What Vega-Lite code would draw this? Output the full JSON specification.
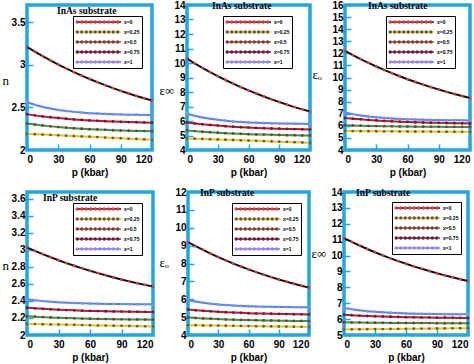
{
"$schema": "https://vega.github.io/schema/vega-lite/v6.json",
"padding": {"left": 0, "top": -2, "right": 0, "bottom": 0},
"background": "white",
"config": {
 "view": {"stroke": "#22a6e2", "strokeWidth": 3.5},
 "axis": {"grid": false, "domain": false, "tickColor": "#22a6e2", "tickSize": -6, "tickWidth": 1.5, "labelFont": "Liberation Sans", "labelFontWeight": "bold", "labelFontSize": 10, "labelColor": "black"},
 "axisX": {"labelPadding": 10, "titleFont": "Liberation Sans", "titleFontWeight": "bold", "titleFontSize": 10, "titlePadding": 3, "titleColor": "black"},
 "axisY": {"labelPadding": 8, "titleFont": "Liberation Serif", "titleFontWeight": "normal", "titleFontSize": 13, "titleAngle": 0, "titleAlign": "left", "titleBaseline": "middle", "titleColor": "black", "format": "~g"},
 "title": {"font": "Liberation Serif", "fontSize": 9.5, "fontWeight": "bold", "anchor": "start", "frame": "group", "offset": -10, "color": "black"},
 "legend": {"padding": 2, "rowPadding": 2, "clipHeight": 8, "symbolSize": 2025, "labelFontSize": 5, "labelFont": "Liberation Sans", "labelFontWeight": "bold", "labelOffset": 2, "labelColor": "black", "symbolOpacity": 1}
},
"data": {"values": [
{"g":1,"p":0,"a":3.210,"b":2.190,"c":2.310,"d":2.420,"e":2.560},
{"g":1,"p":7.5,"a":3.154,"b":2.186,"c":2.298,"d":2.406,"e":2.530},
{"g":1,"p":15,"a":3.101,"b":2.181,"c":2.287,"d":2.394,"e":2.505},
{"g":1,"p":22.5,"a":3.050,"b":2.177,"c":2.277,"d":2.384,"e":2.486},
{"g":1,"p":30,"a":3.002,"b":2.173,"c":2.269,"d":2.375,"e":2.470},
{"g":1,"p":37.5,"a":2.956,"b":2.168,"c":2.262,"d":2.366,"e":2.457},
{"g":1,"p":45,"a":2.913,"b":2.164,"c":2.255,"d":2.359,"e":2.447},
{"g":1,"p":52.5,"a":2.872,"b":2.159,"c":2.249,"d":2.353,"e":2.439},
{"g":1,"p":60,"a":2.832,"b":2.155,"c":2.244,"d":2.347,"e":2.432},
{"g":1,"p":67.5,"a":2.795,"b":2.151,"c":2.240,"d":2.342,"e":2.427},
{"g":1,"p":75,"a":2.760,"b":2.146,"c":2.236,"d":2.338,"e":2.423},
{"g":1,"p":82.5,"a":2.726,"b":2.142,"c":2.232,"d":2.334,"e":2.419},
{"g":1,"p":90,"a":2.693,"b":2.138,"c":2.229,"d":2.330,"e":2.417},
{"g":1,"p":97.5,"a":2.663,"b":2.133,"c":2.226,"d":2.327,"e":2.414},
{"g":1,"p":105,"a":2.634,"b":2.129,"c":2.224,"d":2.325,"e":2.413},
{"g":1,"p":112.5,"a":2.606,"b":2.124,"c":2.222,"d":2.322,"e":2.411},
{"g":1,"p":120,"a":2.580,"b":2.120,"c":2.220,"d":2.320,"e":2.410},
{"g":2,"p":0,"a":10.300,"b":4.800,"c":5.350,"d":5.900,"e":6.500},
{"g":2,"p":7.5,"a":9.975,"b":4.781,"c":5.302,"d":5.835,"e":6.358},
{"g":2,"p":15,"a":9.669,"b":4.763,"c":5.260,"d":5.777,"e":6.245},
{"g":2,"p":22.5,"a":9.373,"b":4.744,"c":5.223,"d":5.726,"e":6.153},
{"g":2,"p":30,"a":9.096,"b":4.725,"c":5.191,"d":5.682,"e":6.079},
{"g":2,"p":37.5,"a":8.829,"b":4.706,"c":5.162,"d":5.642,"e":6.020},
{"g":2,"p":45,"a":8.577,"b":4.688,"c":5.137,"d":5.607,"e":5.972},
{"g":2,"p":52.5,"a":8.340,"b":4.669,"c":5.114,"d":5.576,"e":5.934},
{"g":2,"p":60,"a":8.110,"b":4.650,"c":5.094,"d":5.549,"e":5.904},
{"g":2,"p":67.5,"a":7.895,"b":4.631,"c":5.077,"d":5.525,"e":5.879},
{"g":2,"p":75,"a":7.690,"b":4.613,"c":5.061,"d":5.504,"e":5.860},
{"g":2,"p":82.5,"a":7.493,"b":4.594,"c":5.048,"d":5.485,"e":5.843},
{"g":2,"p":90,"a":7.307,"b":4.575,"c":5.036,"d":5.469,"e":5.831},
{"g":2,"p":97.5,"a":7.128,"b":4.556,"c":5.025,"d":5.454,"e":5.820},
{"g":2,"p":105,"a":6.960,"b":4.538,"c":5.016,"d":5.442,"e":5.812},
{"g":2,"p":112.5,"a":6.803,"b":4.519,"c":5.007,"d":5.430,"e":5.806},
{"g":2,"p":120,"a":6.650,"b":4.500,"c":5.000,"d":5.420,"e":5.800},
{"g":3,"p":0,"a":12.200,"b":5.570,"c":6.050,"d":6.650,"e":7.100},
{"g":3,"p":7.5,"a":11.853,"b":5.566,"c":6.030,"d":6.589,"e":6.968},
{"g":3,"p":15,"a":11.525,"b":5.561,"c":6.012,"d":6.535,"e":6.863},
{"g":3,"p":22.5,"a":11.209,"b":5.557,"c":5.996,"d":6.487,"e":6.778},
{"g":3,"p":30,"a":10.913,"b":5.553,"c":5.982,"d":6.445,"e":6.709},
{"g":3,"p":37.5,"a":10.628,"b":5.548,"c":5.969,"d":6.408,"e":6.654},
{"g":3,"p":45,"a":10.359,"b":5.544,"c":5.959,"d":6.376,"e":6.610},
{"g":3,"p":52.5,"a":10.106,"b":5.539,"c":5.949,"d":6.347,"e":6.575},
{"g":3,"p":60,"a":9.860,"b":5.535,"c":5.940,"d":6.321,"e":6.546},
{"g":3,"p":67.5,"a":9.630,"b":5.531,"c":5.933,"d":6.299,"e":6.523},
{"g":3,"p":75,"a":9.412,"b":5.526,"c":5.926,"d":6.279,"e":6.505},
{"g":3,"p":82.5,"a":9.201,"b":5.522,"c":5.920,"d":6.261,"e":6.490},
{"g":3,"p":90,"a":9.002,"b":5.518,"c":5.915,"d":6.246,"e":6.479},
{"g":3,"p":97.5,"a":8.811,"b":5.513,"c":5.911,"d":6.232,"e":6.469},
{"g":3,"p":105,"a":8.632,"b":5.509,"c":5.907,"d":6.220,"e":6.461},
{"g":3,"p":112.5,"a":8.464,"b":5.504,"c":5.903,"d":6.209,"e":6.455},
{"g":3,"p":120,"a":8.300,"b":5.500,"c":5.900,"d":6.200,"e":6.450},
{"g":4,"p":0,"a":3.030,"b":2.130,"c":2.220,"d":2.320,"e":2.420},
{"g":4,"p":7.5,"a":2.989,"b":2.128,"c":2.215,"d":2.313,"e":2.408},
{"g":4,"p":15,"a":2.950,"b":2.126,"c":2.210,"d":2.307,"e":2.398},
{"g":4,"p":22.5,"a":2.913,"b":2.124,"c":2.206,"d":2.302,"e":2.390},
{"g":4,"p":30,"a":2.878,"b":2.123,"c":2.202,"d":2.297,"e":2.384},
{"g":4,"p":37.5,"a":2.845,"b":2.121,"c":2.199,"d":2.293,"e":2.379},
{"g":4,"p":45,"a":2.813,"b":2.119,"c":2.196,"d":2.290,"e":2.375},
{"g":4,"p":52.5,"a":2.783,"b":2.117,"c":2.193,"d":2.286,"e":2.372},
{"g":4,"p":60,"a":2.754,"b":2.115,"c":2.191,"d":2.283,"e":2.369},
{"g":4,"p":67.5,"a":2.727,"b":2.113,"c":2.189,"d":2.281,"e":2.367},
{"g":4,"p":75,"a":2.701,"b":2.111,"c":2.187,"d":2.279,"e":2.365},
{"g":4,"p":82.5,"a":2.676,"b":2.109,"c":2.185,"d":2.277,"e":2.364},
{"g":4,"p":90,"a":2.653,"b":2.108,"c":2.184,"d":2.275,"e":2.363},
{"g":4,"p":97.5,"a":2.630,"b":2.106,"c":2.183,"d":2.274,"e":2.362},
{"g":4,"p":105,"a":2.609,"b":2.104,"c":2.182,"d":2.272,"e":2.361},
{"g":4,"p":112.5,"a":2.589,"b":2.102,"c":2.181,"d":2.271,"e":2.360},
{"g":4,"p":120,"a":2.570,"b":2.100,"c":2.180,"d":2.270,"e":2.360},
{"g":5,"p":0,"a":9.200,"b":4.550,"c":4.980,"d":5.420,"e":5.950},
{"g":5,"p":7.5,"a":8.973,"b":4.544,"c":4.953,"d":5.383,"e":5.869},
{"g":5,"p":15,"a":8.759,"b":4.538,"c":4.929,"d":5.351,"e":5.804},
{"g":5,"p":22.5,"a":8.552,"b":4.531,"c":4.908,"d":5.322,"e":5.752},
{"g":5,"p":30,"a":8.359,"b":4.525,"c":4.889,"d":5.297,"e":5.710},
{"g":5,"p":37.5,"a":8.172,"b":4.519,"c":4.873,"d":5.275,"e":5.676},
{"g":5,"p":45,"a":7.996,"b":4.513,"c":4.858,"d":5.255,"e":5.648},
{"g":5,"p":52.5,"a":7.831,"b":4.506,"c":4.845,"d":5.238,"e":5.627},
{"g":5,"p":60,"a":7.670,"b":4.500,"c":4.834,"d":5.223,"e":5.609},
{"g":5,"p":67.5,"a":7.520,"b":4.494,"c":4.824,"d":5.209,"e":5.595},
{"g":5,"p":75,"a":7.377,"b":4.488,"c":4.815,"d":5.197,"e":5.584},
{"g":5,"p":82.5,"a":7.239,"b":4.481,"c":4.807,"d":5.187,"e":5.575},
{"g":5,"p":90,"a":7.109,"b":4.475,"c":4.800,"d":5.178,"e":5.568},
{"g":5,"p":97.5,"a":6.984,"b":4.469,"c":4.794,"d":5.169,"e":5.562},
{"g":5,"p":105,"a":6.867,"b":4.463,"c":4.789,"d":5.162,"e":5.557},
{"g":5,"p":112.5,"a":6.757,"b":4.456,"c":4.784,"d":5.156,"e":5.553},
{"g":5,"p":120,"a":6.650,"b":4.450,"c":4.780,"d":5.150,"e":5.550},
{"g":6,"p":0,"a":11.100,"b":5.350,"c":5.800,"d":6.270,"e":6.700},
{"g":6,"p":7.5,"a":10.860,"b":5.355,"c":5.792,"d":6.243,"e":6.619},
{"g":6,"p":15,"a":10.633,"b":5.360,"c":5.785,"d":6.219,"e":6.554},
{"g":6,"p":22.5,"a":10.414,"b":5.365,"c":5.778,"d":6.198,"e":6.502},
{"g":6,"p":30,"a":10.209,"b":5.370,"c":5.773,"d":6.179,"e":6.460},
{"g":6,"p":37.5,"a":10.012,"b":5.375,"c":5.768,"d":6.163,"e":6.426},
{"g":6,"p":45,"a":9.826,"b":5.380,"c":5.763,"d":6.148,"e":6.398},
{"g":6,"p":52.5,"a":9.650,"b":5.385,"c":5.760,"d":6.135,"e":6.377},
{"g":6,"p":60,"a":9.480,"b":5.390,"c":5.756,"d":6.124,"e":6.359},
{"g":6,"p":67.5,"a":9.321,"b":5.395,"c":5.753,"d":6.114,"e":6.345},
{"g":6,"p":75,"a":9.170,"b":5.400,"c":5.751,"d":6.105,"e":6.334},
{"g":6,"p":82.5,"a":9.024,"b":5.405,"c":5.748,"d":6.097,"e":6.325},
{"g":6,"p":90,"a":8.886,"b":5.410,"c":5.746,"d":6.090,"e":6.318},
{"g":6,"p":97.5,"a":8.754,"b":5.415,"c":5.744,"d":6.084,"e":6.312},
{"g":6,"p":105,"a":8.630,"b":5.420,"c":5.743,"d":6.079,"e":6.307},
{"g":6,"p":112.5,"a":8.513,"b":5.425,"c":5.741,"d":6.074,"e":6.303},
{"g":6,"p":120,"a":8.400,"b":5.430,"c":5.740,"d":6.070,"e":6.300}
]},
"transform": [{"fold": ["a","b","c","d","e"], "as": ["s","v"]}],
"spacing": 6,
"resolve": {"scale": {"color": "independent", "fill": "independent"}, "legend": {"color": "independent", "fill": "independent"}},
"vconcat": [
{"spacing": 35, "bounds": "flush",
 "resolve": {"scale": {"color": "independent", "fill": "independent"}, "legend": {"color": "independent", "fill": "independent"}},
 "hconcat": [
 {"width": 125, "height": 145, "title": {"text": "InAs substrate", "dx": 30},
  "transform": [{"filter": "datum.g == 1"}],
  "encoding": {
   "x": {"field": "p", "type": "quantitative", "scale": {"domain": [0,120]}, "axis": {"values": [0,30,60,90,120], "title": "p (kbar)", "labelFlush": true}},
   "y": {"field": "v", "type": "quantitative", "scale": {"domain": [2,3.7]}, "axis": {"values": [2,2.5,3,3.5], "title": "n", "titleX": -25, "titleY": 75}}},
  "layer": [
   {"mark": {"type": "line", "strokeWidth": 2}, "encoding": {"color": {"field": "s", "type": "nominal", "scale": {"range": ["#111111","#f2c318","#22a046","#c0182a","#3b8ff0"]}, "legend": {"title": null, "orient": "none", "legendX": 46, "legendY": 11, "symbolType": "M-1,0H1", "symbolStrokeWidth": 1.5, "fillColor": "white", "strokeColor": "black", "labelExpr": "datum.label=='a'?'x=0':datum.label=='b'?'x=0.25':datum.label=='c'?'x=0.5':datum.label=='d'?'x=0.75':'x=1'"}}}},
   {"mark": {"type": "point", "filled": true, "size": 8, "opacity": 1}, "encoding": {"fill": {"field": "s", "type": "nominal", "scale": {"domain": ["a","b","c","d","e"], "range": ["#e8383d","#6b5e2e","#9a2f2f","#6a1c3c","#a77ef0"]}, "legend": {"title": null, "orient": "none", "legendX": 46, "legendY": 11, "symbolType": "M-0.975,0a0.075,0.075 0 1,0 0.15,0a0.075,0.075 0 1,0 -0.15,0M-0.775,0a0.075,0.075 0 1,0 0.15,0a0.075,0.075 0 1,0 -0.15,0M-0.575,0a0.075,0.075 0 1,0 0.15,0a0.075,0.075 0 1,0 -0.15,0M-0.375,0a0.075,0.075 0 1,0 0.15,0a0.075,0.075 0 1,0 -0.15,0M-0.175,0a0.075,0.075 0 1,0 0.15,0a0.075,0.075 0 1,0 -0.15,0M0.025,0a0.075,0.075 0 1,0 0.15,0a0.075,0.075 0 1,0 -0.15,0M0.225,0a0.075,0.075 0 1,0 0.15,0a0.075,0.075 0 1,0 -0.15,0M0.425,0a0.075,0.075 0 1,0 0.15,0a0.075,0.075 0 1,0 -0.15,0M0.625,0a0.075,0.075 0 1,0 0.15,0a0.075,0.075 0 1,0 -0.15,0M0.825,0a0.075,0.075 0 1,0 0.15,0a0.075,0.075 0 1,0 -0.15,0", "symbolStrokeWidth": 0, "labelExpr": "''"}}}}
  ]},
 {"width": 123, "height": 145, "title": {"text": "InAs substrate", "dx": 25},
  "transform": [{"filter": "datum.g == 2"}],
  "encoding": {
   "x": {"field": "p", "type": "quantitative", "scale": {"domain": [0,120]}, "axis": {"values": [0,30,60,90,120], "title": "p (kbar)", "labelFlush": true}},
   "y": {"field": "v", "type": "quantitative", "scale": {"domain": [4,14]}, "axis": {"values": [4,5,6,7,8,9,10,11,12,13,14], "title": "ε∞", "titleX": -28, "titleY": 85}}},
  "layer": [
   {"mark": {"type": "line", "strokeWidth": 2}, "encoding": {"color": {"field": "s", "type": "nominal", "scale": {"range": ["#111111","#f2c318","#22a046","#c0182a","#3b8ff0"]}, "legend": {"title": null, "orient": "none", "legendX": 36, "legendY": 11, "symbolType": "M-1,0H1", "symbolStrokeWidth": 1.5, "fillColor": "white", "strokeColor": "black", "labelExpr": "datum.label=='a'?'x=0':datum.label=='b'?'x=0.25':datum.label=='c'?'x=0.5':datum.label=='d'?'x=0.75':'x=1'"}}}},
   {"mark": {"type": "point", "filled": true, "size": 8, "opacity": 1}, "encoding": {"fill": {"field": "s", "type": "nominal", "scale": {"domain": ["a","b","c","d","e"], "range": ["#e8383d","#6b5e2e","#9a2f2f","#6a1c3c","#a77ef0"]}, "legend": {"title": null, "orient": "none", "legendX": 36, "legendY": 11, "symbolType": "M-0.975,0a0.075,0.075 0 1,0 0.15,0a0.075,0.075 0 1,0 -0.15,0M-0.775,0a0.075,0.075 0 1,0 0.15,0a0.075,0.075 0 1,0 -0.15,0M-0.575,0a0.075,0.075 0 1,0 0.15,0a0.075,0.075 0 1,0 -0.15,0M-0.375,0a0.075,0.075 0 1,0 0.15,0a0.075,0.075 0 1,0 -0.15,0M-0.175,0a0.075,0.075 0 1,0 0.15,0a0.075,0.075 0 1,0 -0.15,0M0.025,0a0.075,0.075 0 1,0 0.15,0a0.075,0.075 0 1,0 -0.15,0M0.225,0a0.075,0.075 0 1,0 0.15,0a0.075,0.075 0 1,0 -0.15,0M0.425,0a0.075,0.075 0 1,0 0.15,0a0.075,0.075 0 1,0 -0.15,0M0.625,0a0.075,0.075 0 1,0 0.15,0a0.075,0.075 0 1,0 -0.15,0M0.825,0a0.075,0.075 0 1,0 0.15,0a0.075,0.075 0 1,0 -0.15,0", "symbolStrokeWidth": 0, "labelExpr": "''"}}}}
  ]},
 {"width": 125, "height": 145, "title": {"text": "InAs substrate", "dx": 23},
  "transform": [{"filter": "datum.g == 3"}],
  "encoding": {
   "x": {"field": "p", "type": "quantitative", "scale": {"domain": [0,120]}, "axis": {"values": [0,30,60,90,120], "title": "p (kbar)", "labelFlush": true}},
   "y": {"field": "v", "type": "quantitative", "scale": {"domain": [4,16]}, "axis": {"values": [4,5,6,7,8,9,10,11,12,13,14,15,16], "title": "εₒ", "titleX": -33, "titleY": 69}}},
  "layer": [
   {"mark": {"type": "line", "strokeWidth": 2}, "encoding": {"color": {"field": "s", "type": "nominal", "scale": {"range": ["#111111","#f2c318","#22a046","#c0182a","#3b8ff0"]}, "legend": {"title": null, "orient": "none", "legendX": 41, "legendY": 11, "symbolType": "M-1,0H1", "symbolStrokeWidth": 1.5, "fillColor": "white", "strokeColor": "black", "labelExpr": "datum.label=='a'?'x=0':datum.label=='b'?'x=0.25':datum.label=='c'?'x=0.5':datum.label=='d'?'x=0.75':'x=1'"}}}},
   {"mark": {"type": "point", "filled": true, "size": 8, "opacity": 1}, "encoding": {"fill": {"field": "s", "type": "nominal", "scale": {"domain": ["a","b","c","d","e"], "range": ["#e8383d","#6b5e2e","#9a2f2f","#6a1c3c","#a77ef0"]}, "legend": {"title": null, "orient": "none", "legendX": 41, "legendY": 11, "symbolType": "M-0.975,0a0.075,0.075 0 1,0 0.15,0a0.075,0.075 0 1,0 -0.15,0M-0.775,0a0.075,0.075 0 1,0 0.15,0a0.075,0.075 0 1,0 -0.15,0M-0.575,0a0.075,0.075 0 1,0 0.15,0a0.075,0.075 0 1,0 -0.15,0M-0.375,0a0.075,0.075 0 1,0 0.15,0a0.075,0.075 0 1,0 -0.15,0M-0.175,0a0.075,0.075 0 1,0 0.15,0a0.075,0.075 0 1,0 -0.15,0M0.025,0a0.075,0.075 0 1,0 0.15,0a0.075,0.075 0 1,0 -0.15,0M0.225,0a0.075,0.075 0 1,0 0.15,0a0.075,0.075 0 1,0 -0.15,0M0.425,0a0.075,0.075 0 1,0 0.15,0a0.075,0.075 0 1,0 -0.15,0M0.625,0a0.075,0.075 0 1,0 0.15,0a0.075,0.075 0 1,0 -0.15,0M0.825,0a0.075,0.075 0 1,0 0.15,0a0.075,0.075 0 1,0 -0.15,0", "symbolStrokeWidth": 0, "labelExpr": "''"}}}}
  ]}
 ]},
{"spacing": 35, "bounds": "flush",
 "resolve": {"scale": {"color": "independent", "fill": "independent"}, "legend": {"color": "independent", "fill": "independent"}},
 "hconcat": [
 {"width": 126, "height": 143, "title": {"text": "InP substrate", "dx": 16},
  "transform": [{"filter": "datum.g == 4"}],
  "encoding": {
   "x": {"field": "p", "type": "quantitative", "scale": {"domain": [0,120]}, "axis": {"values": [0,30,60,90,120], "title": "p (kbar)", "labelFlush": true}},
   "y": {"field": "v", "type": "quantitative", "scale": {"domain": [2,3.68]}, "axis": {"values": [2,2.2,2.4,2.6,2.8,3,3.2,3.4,3.6], "title": "n", "titleX": -25, "titleY": 73}}},
  "layer": [
   {"mark": {"type": "line", "strokeWidth": 2}, "encoding": {"color": {"field": "s", "type": "nominal", "scale": {"range": ["#111111","#f2c318","#22a046","#c0182a","#3b8ff0"]}, "legend": {"title": null, "orient": "none", "legendX": 46, "legendY": 11, "symbolType": "M-1,0H1", "symbolStrokeWidth": 1.5, "fillColor": "white", "strokeColor": "black", "labelExpr": "datum.label=='a'?'x=0':datum.label=='b'?'x=0.25':datum.label=='c'?'x=0.5':datum.label=='d'?'x=0.75':'x=1'"}}}},
   {"mark": {"type": "point", "filled": true, "size": 8, "opacity": 1}, "encoding": {"fill": {"field": "s", "type": "nominal", "scale": {"domain": ["a","b","c","d","e"], "range": ["#e8383d","#6b5e2e","#9a2f2f","#6a1c3c","#a77ef0"]}, "legend": {"title": null, "orient": "none", "legendX": 46, "legendY": 11, "symbolType": "M-0.975,0a0.075,0.075 0 1,0 0.15,0a0.075,0.075 0 1,0 -0.15,0M-0.775,0a0.075,0.075 0 1,0 0.15,0a0.075,0.075 0 1,0 -0.15,0M-0.575,0a0.075,0.075 0 1,0 0.15,0a0.075,0.075 0 1,0 -0.15,0M-0.375,0a0.075,0.075 0 1,0 0.15,0a0.075,0.075 0 1,0 -0.15,0M-0.175,0a0.075,0.075 0 1,0 0.15,0a0.075,0.075 0 1,0 -0.15,0M0.025,0a0.075,0.075 0 1,0 0.15,0a0.075,0.075 0 1,0 -0.15,0M0.225,0a0.075,0.075 0 1,0 0.15,0a0.075,0.075 0 1,0 -0.15,0M0.425,0a0.075,0.075 0 1,0 0.15,0a0.075,0.075 0 1,0 -0.15,0M0.625,0a0.075,0.075 0 1,0 0.15,0a0.075,0.075 0 1,0 -0.15,0M0.825,0a0.075,0.075 0 1,0 0.15,0a0.075,0.075 0 1,0 -0.15,0", "symbolStrokeWidth": 0, "labelExpr": "''"}}}}
  ]},
 {"width": 121, "height": 143, "title": {"text": "InP substrate", "dx": 12},
  "transform": [{"filter": "datum.g == 5"}],
  "encoding": {
   "x": {"field": "p", "type": "quantitative", "scale": {"domain": [0,120]}, "axis": {"values": [0,30,60,90,120], "title": "p (kbar)", "labelFlush": true}},
   "y": {"field": "v", "type": "quantitative", "scale": {"domain": [4,12]}, "axis": {"values": [4,5,6,7,8,9,10,11,12], "title": "εₒ", "titleX": -29, "titleY": 70}}},
  "layer": [
   {"mark": {"type": "line", "strokeWidth": 2}, "encoding": {"color": {"field": "s", "type": "nominal", "scale": {"range": ["#111111","#f2c318","#22a046","#c0182a","#3b8ff0"]}, "legend": {"title": null, "orient": "none", "legendX": 44, "legendY": 11, "symbolType": "M-1,0H1", "symbolStrokeWidth": 1.5, "fillColor": "white", "strokeColor": "black", "labelExpr": "datum.label=='a'?'x=0':datum.label=='b'?'x=0.25':datum.label=='c'?'x=0.5':datum.label=='d'?'x=0.75':'x=1'"}}}},
   {"mark": {"type": "point", "filled": true, "size": 8, "opacity": 1}, "encoding": {"fill": {"field": "s", "type": "nominal", "scale": {"domain": ["a","b","c","d","e"], "range": ["#e8383d","#6b5e2e","#9a2f2f","#6a1c3c","#a77ef0"]}, "legend": {"title": null, "orient": "none", "legendX": 44, "legendY": 11, "symbolType": "M-0.975,0a0.075,0.075 0 1,0 0.15,0a0.075,0.075 0 1,0 -0.15,0M-0.775,0a0.075,0.075 0 1,0 0.15,0a0.075,0.075 0 1,0 -0.15,0M-0.575,0a0.075,0.075 0 1,0 0.15,0a0.075,0.075 0 1,0 -0.15,0M-0.375,0a0.075,0.075 0 1,0 0.15,0a0.075,0.075 0 1,0 -0.15,0M-0.175,0a0.075,0.075 0 1,0 0.15,0a0.075,0.075 0 1,0 -0.15,0M0.025,0a0.075,0.075 0 1,0 0.15,0a0.075,0.075 0 1,0 -0.15,0M0.225,0a0.075,0.075 0 1,0 0.15,0a0.075,0.075 0 1,0 -0.15,0M0.425,0a0.075,0.075 0 1,0 0.15,0a0.075,0.075 0 1,0 -0.15,0M0.625,0a0.075,0.075 0 1,0 0.15,0a0.075,0.075 0 1,0 -0.15,0M0.825,0a0.075,0.075 0 1,0 0.15,0a0.075,0.075 0 1,0 -0.15,0", "symbolStrokeWidth": 0, "labelExpr": "''"}}}}
  ]},
 {"width": 124, "height": 143, "title": {"text": "InP substrate", "dx": 12},
  "transform": [{"filter": "datum.g == 6"}],
  "encoding": {
   "x": {"field": "p", "type": "quantitative", "scale": {"domain": [0,120]}, "axis": {"values": [0,30,60,90,120], "title": "p (kbar)", "labelFlush": true}},
   "y": {"field": "v", "type": "quantitative", "scale": {"domain": [5,14]}, "axis": {"values": [5,6,7,8,9,10,11,12,13,14], "title": "ε∞", "titleX": -33, "titleY": 61}}},
  "layer": [
   {"mark": {"type": "line", "strokeWidth": 2}, "encoding": {"color": {"field": "s", "type": "nominal", "scale": {"range": ["#111111","#f2c318","#22a046","#c0182a","#3b8ff0"]}, "legend": {"title": null, "orient": "none", "legendX": 48, "legendY": 10, "symbolType": "M-1,0H1", "symbolStrokeWidth": 1.5, "fillColor": "white", "strokeColor": "black", "labelExpr": "datum.label=='a'?'x=0':datum.label=='b'?'x=0.25':datum.label=='c'?'x=0.5':datum.label=='d'?'x=0.75':'x=1'"}}}},
   {"mark": {"type": "point", "filled": true, "size": 8, "opacity": 1}, "encoding": {"fill": {"field": "s", "type": "nominal", "scale": {"domain": ["a","b","c","d","e"], "range": ["#e8383d","#6b5e2e","#9a2f2f","#6a1c3c","#a77ef0"]}, "legend": {"title": null, "orient": "none", "legendX": 48, "legendY": 10, "symbolType": "M-0.975,0a0.075,0.075 0 1,0 0.15,0a0.075,0.075 0 1,0 -0.15,0M-0.775,0a0.075,0.075 0 1,0 0.15,0a0.075,0.075 0 1,0 -0.15,0M-0.575,0a0.075,0.075 0 1,0 0.15,0a0.075,0.075 0 1,0 -0.15,0M-0.375,0a0.075,0.075 0 1,0 0.15,0a0.075,0.075 0 1,0 -0.15,0M-0.175,0a0.075,0.075 0 1,0 0.15,0a0.075,0.075 0 1,0 -0.15,0M0.025,0a0.075,0.075 0 1,0 0.15,0a0.075,0.075 0 1,0 -0.15,0M0.225,0a0.075,0.075 0 1,0 0.15,0a0.075,0.075 0 1,0 -0.15,0M0.425,0a0.075,0.075 0 1,0 0.15,0a0.075,0.075 0 1,0 -0.15,0M0.625,0a0.075,0.075 0 1,0 0.15,0a0.075,0.075 0 1,0 -0.15,0M0.825,0a0.075,0.075 0 1,0 0.15,0a0.075,0.075 0 1,0 -0.15,0", "symbolStrokeWidth": 0, "labelExpr": "''"}}}}
  ]}
 ]}
]
}
